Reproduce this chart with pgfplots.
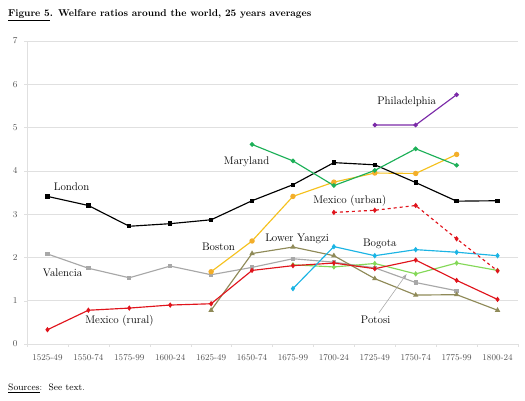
\documentclass[border=0pt]{standalone}
\usepackage{pgfplots}
\pgfplotsset{compat=1.18}
\definecolor{cLondon}{HTML}{000000}
\definecolor{cMary}{HTML}{1DB058}
\definecolor{cPhil}{HTML}{7B2AA8}
\definecolor{cBost}{HTML}{F5C11E}
\definecolor{cBostM}{HTML}{F3AE2A}
\definecolor{cRed}{HTML}{E0141C}
\definecolor{cVal}{HTML}{A8A8A8}
\definecolor{cYang}{HTML}{8F8A58}
\definecolor{cBog}{HTML}{1BB4E4}
\definecolor{cPot}{HTML}{84D858}
\definecolor{cGrid}{HTML}{E0E0E0}
\definecolor{cTick}{HTML}{505050}
\begin{document}
\begin{tikzpicture}
\useasboundingbox (-27pt,-56pt) rectangle (498pt,344pt);
\begin{axis}[
  at={(0pt,0pt)}, anchor=south west,
  scale only axis, width=491pt, height=303pt,
  xmin=-0.5, xmax=11.5, ymin=0, ymax=7,
  xtick={0,...,11},
  xticklabels={{1525-49},{1550-74},{1575-99},{1600-24},{1625-49},{1650-74},{1675-99},{1700-24},{1725-49},{1750-74},{1775-99},{1800-24}},
  minor xtick={-0.5,0.5,...,11.5},
  major x tick style={draw=none},
  minor tick length=3pt,
  ytick={0,...,7},
  major tick length=3pt,
  tick align=outside,
  tick style={cGrid},
  axis x line*=bottom, axis y line*=left,
  axis line style={cGrid, -},
  ymajorgrids, grid style={cGrid, line width=0.6pt},
  ticklabel style={font=\fontsize{8.8}{10}\selectfont, text=cTick},
  xticklabel style={yshift=-4pt},
  yticklabel style={xshift=-3pt},
  clip=false,
  every axis plot/.append style={line width=1.15pt},
]
% Valencia
\addplot[cVal, mark=square*, mark size=1.6pt] coordinates {(0,2.08)(1,1.75)(2,1.53)(3,1.80)(4,1.60)(5,1.77)(6,1.97)(7,1.89)(8,1.76)(9,1.42)(10,1.23)};
% Lower Yangzi
\addplot[cYang, mark=triangle*, mark size=2pt] coordinates {(4,0.78)(5,2.09)(6,2.24)(7,2.04)(8,1.51)(9,1.13)(10,1.14)(11,0.78)};
% Potosi
\addplot[cPot, mark=diamond*, mark size=1.8pt] coordinates {(6,1.83)(7,1.78)(8,1.86)(9,1.62)(10,1.87)(11,1.70)};
% Mexico rural
\addplot[cRed, mark=diamond*, mark size=1.8pt] coordinates {(0,0.33)(1,0.78)(2,0.83)(3,0.90)(4,0.93)(5,1.70)(6,1.81)(7,1.87)(8,1.74)(9,1.94)(10,1.47)(11,1.03)};
% Bogota
\addplot[cBog, mark=diamond*, mark size=1.9pt] coordinates {(6,1.28)(7,2.25)(8,2.04)(9,2.18)(10,2.12)(11,2.04)};
% Mexico urban
\addplot[cRed, dashed, mark=diamond*, mark size=1.8pt, mark options={solid}] coordinates {(7,3.04)(8,3.09)(9,3.20)(10,2.43)(11,1.69)};
% Boston
\addplot[cBost, mark=*, mark size=2.1pt, mark options={fill=cBostM, draw=cBostM}] coordinates {(4,1.67)(5,2.38)(6,3.41)(7,3.74)(8,3.95)(9,3.94)(10,4.38)};
% London
\addplot[black, mark=square*, mark size=1.6pt] coordinates {(0,3.41)(1,3.20)(2,2.72)(3,2.78)(4,2.87)(5,3.31)(6,3.68)(7,4.19)(8,4.14)(9,3.73)(10,3.30)(11,3.31)};
% Maryland
\addplot[cMary, mark=*, mark size=1.7pt] coordinates {(5,4.61)(6,4.23)(7,3.66)(8,4.01)(9,4.51)(10,4.13)};
% Philadelphia
\addplot[cPhil, mark=*, mark size=1.7pt] coordinates {(8,5.06)(9,5.06)(10,5.76)};
% labels
\begin{scope}[every node/.style={font=\fontsize{11}{12}\selectfont, inner sep=0pt}]
\node at (axis cs:0.59,3.63) {London};
\node at (axis cs:4.87,4.20) {Maryland};
\node at (axis cs:8.78,5.60) {Philadelphia};
\node at (axis cs:7.39,3.32) {Mexico (urban)};
\node at (axis cs:4.18,2.25) {Boston};
\node at (axis cs:6.10,2.42) {Lower Yangzi};
\node at (axis cs:8.12,2.31) {Bogota};
\node at (axis cs:0.37,1.64) {Valencia};
\node at (axis cs:1.76,0.53) {Mexico (rural)};
\node at (axis cs:8.02,0.56) {Potosi};
\end{scope}
\draw[cVal, line width=0.6pt, -latex] (axis cs:8.1,0.72) -- (axis cs:8.78,1.62);
\end{axis}
\node[anchor=west, inner sep=0pt, font=\fontsize{9.9}{11}\selectfont\bfseries] at (-19pt,329pt) {\underline{Figure 5}. Welfare ratios around the world, 25 years averages};
\node[anchor=west, inner sep=0pt, font=\fontsize{9.3}{11}\selectfont] at (-19pt,-44pt) {\underline{Sources}:\ \ See text.};
\end{tikzpicture}
\end{document}
